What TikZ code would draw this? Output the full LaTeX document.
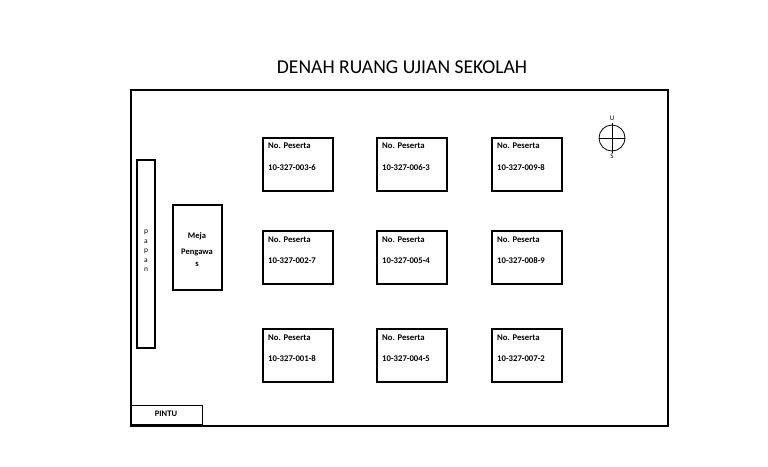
\documentclass[tikz,border=0pt]{standalone}
\usepackage{fontspec}
\setmainfont{Carlito}
\begin{document}
\begin{tikzpicture}[x=1pt,y=-1pt,
 box/.style={draw,line width=1.2pt},
 lab/.style={font=\fontsize{8.7}{9}\selectfont\bfseries,anchor=west,inner sep=0}]
\useasboundingbox (0,0) rectangle (768,466);
\node[font=\fontsize{19.6}{22}\selectfont] (title) at (402,67) {DENAH RUANG UJIAN SEKOLAH};
\draw[line width=1.2pt] (131,90) rectangle (668,426);
\draw[box] (137,160) rectangle (155,348);
\node[font=\fontsize{7.5}{9.5}\selectfont,align=center] (papan) at (146,251) {p\\a\\p\\a\\n};
\draw[box] (173,205) rectangle (222,290);
\node[font=\fontsize{8.5}{12}\selectfont\bfseries,align=center] (meja) at (197,250) {Meja\\[4pt]Pengawa\\s};
\foreach \x/\c in {263/0,377/1,492/2}{
 \foreach \y/\r in {138/0,231/1,329/2}{
  \draw[box] (\x,\y) rectangle ++(70,53);
 }}
\foreach \x/\a/\b/\cc in {263/003-6/002-7/001-8,377/006-3/005-4/004-5,492/009-8/008-9/007-2}{
 \node[lab] at (\x+5,146) {No. Peserta};
 \node[lab] at (\x+5,168) {10-327-\a};
 \node[lab] at (\x+5,240) {No. Peserta};
 \node[lab] at (\x+5,261) {10-327-\b};
 \node[lab] at (\x+5,338) {No. Peserta};
 \node[lab] at (\x+5,359) {10-327-\cc};
}
\draw[line width=1pt] (131,405) rectangle (202,424);
\node[font=\fontsize{8.5}{9}\selectfont\bfseries] (pintu) at (166,414) {PINTU};
\draw[line width=0.8pt] (612,138) circle (13);
\draw[line width=0.8pt] (599,138) -- (625,138) (612,123) -- (612,153);
\node[font=\fontsize{7}{7}\selectfont] (u) at (612,118) {U};
\node[font=\fontsize{7}{7}\selectfont] (s) at (612,156) {S};
\end{tikzpicture}
\end{document}
